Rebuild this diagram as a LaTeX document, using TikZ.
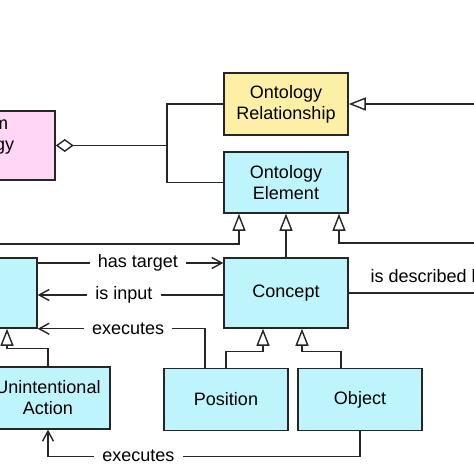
\documentclass[tikz,border=0pt]{standalone}
\usepackage{fontspec}
\setmainfont{Liberation Sans}
\usetikzlibrary{arrows.meta}
\definecolor{elemblue}{RGB}{190,244,251}
\definecolor{relyellow}{RGB}{253,240,166}
\definecolor{ontpink}{RGB}{255,214,246}

\begin{document}
\begin{tikzpicture}[x=1pt,y=-1pt,
		box/.style={draw=black!85,line width=1.5pt,minimum width=124pt,align=center,font=\fontsize{18}{21}\selectfont},
		lbl/.style={fill=white,inner xsep=8pt,inner ysep=1pt,font=\fontsize{18}{21}\selectfont},
		conn/.style={line width=1.4pt,draw=black!85},
		gen/.style={conn,-{Triangle[open,length=17pt,width=13pt]}},
		arr/.style={conn,-{Straight Barb[length=10pt,width=11pt]}},
		agg/.style={conn,{Diamond[open,length=18pt,width=13pt]}-}]
			
			\useasboundingbox (0,0) rectangle (474,474);
			\clip (0,0) rectangle (474,474);
			
			\node[box,fill=relyellow,minimum height=62pt] (1) at (286,104) {Ontology\\Relationship};
			\node[box,fill=elemblue,minimum height=61pt] (2) at (286,182.5) {Ontology\\Element};
			\node[box,fill=ontpink,minimum width=154pt,minimum height=69pt] (3) at (-22,145.5) {};
			\node[align=center,font=\fontsize{18}{21}\selectfont] (3t) at ([yshift=10pt]3.center) {System\\Ontology};
			\node[box,fill=elemblue,minimum width=160pt,minimum height=70pt] (4) at (-43,293) {Action};
			\node[box,fill=elemblue,minimum height=70pt] (5) at (286,293) {Concept};
			\node[box,fill=elemblue,minimum height=62pt] (6) at (48,398) {Unintentional\\Action};
			\node[box,fill=elemblue,minimum height=62pt] (7) at (226,399.5) {Position};
			\node[box,fill=elemblue,minimum height=62pt] (8) at (360,399.5) {Object};
			\node[font=\fontsize{18}{21}\selectfont,anchor=base west] (9) at (367,282) {is described by};
			
			\coordinate (r1) at (490,104);
			\coordinate (r2) at (490,243);
			\coordinate (r3) at (490,293);
			\coordinate (l1) at (-20,244);
			\coordinate (j) at (167,145.5);
			
			\draw[gen] (r1) -- (1.east);
			\draw[agg] (3.east) -- (j);
			\draw[conn] (j) |- (1.west);
			\draw[conn] (j) |- (2.west);
			\draw[gen] (l1) -| ([xshift=-47pt]2.south);
			\draw[gen] (5) -- (2);
			\draw[gen] (r2) -| ([xshift=53pt]2.south);
			\draw[conn] (5.east) -- (r3);
			
			\draw[arr] (4.east |- 0,263) -- node[lbl,pos=0.54]{has target} (5.west |- 0,263);
			\draw[arr] (5.west |- 0,295) -- node[lbl,pos=0.535]{is input} (4.east |- 0,295);
			\draw[arr] ([xshift=-21pt]7.north) |- node[lbl,pos=0.73]{executes} (4.south east);
			\draw[arr] (8.south) -- ++(0,25) -| node[lbl,pos=0.355]{executes} (6.south);
			
			\draw[gen] (7.north) -- ++(0,-16) -| ([xshift=-23pt]5.south);
			\draw[gen] ([xshift=-19pt]8.north) -- ++(0,-16) -| ([xshift=16pt]5.south);
			\draw[gen] (6.north) -- ++(0,-18) -| ([xshift=50pt]4.south);
			
		\end{tikzpicture}
\end{document}
